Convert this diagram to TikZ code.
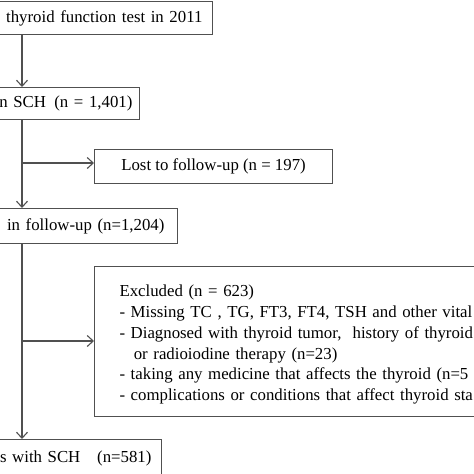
\documentclass[tikz,border=0pt]{standalone}
\usepackage{fontspec}
\setmainfont{Liberation Serif}
\usetikzlibrary{arrows.meta}
\definecolor{edgegray}{HTML}{505050}

\tikzset{
  box/.style = {draw = edgegray, line width = 1.1pt, rectangle, font = \fontsize{16.8}{20.8}\selectfont, inner xsep = 10pt, inner ysep = 0pt},
  flow/.style = {draw = edgegray, line width = 1.1pt, -{Straight Barb[length = 6pt, width = 11pt]}}
}

\begin{document}
\begin{tikzpicture}[x = 1pt, y = -1pt]
\useasboundingbox (0, 0) rectangle (474, 474);
\clip (0, 0) rectangle (474, 474);

\node [box, anchor = north east, text width = 300pt, align = right, minimum height = 33pt] (total) at (213, 1) {thyroid function test in 2011};
\node [box, anchor = north east, text width = 200pt, align = right, minimum height = 32pt, inner xsep = 7pt] (sch) at (140, 87) {n SCH~\,(n = 1,401)};
\node [box, anchor = north west, minimum width = 238pt, minimum height = 34pt] (lost) at (94, 149) {Lost to follow-up (n = 197)};
\node [box, anchor = north east, text width = 200pt, align = right, minimum height = 35pt, inner xsep = 13pt] (follow) at (178, 208) {in follow-up (n=1,204)};
\node [box, anchor = north west, text width = 500pt, align = left, minimum height = 150pt, inner xsep = 25pt] (excl) at (94, 266) {\rule{0pt}{18pt}Excluded (n = 623)\\
- Missing TC , TG, FT3, FT4, TSH and other vital\\
- Diagnosed with thyroid tumor,~ history of thyroid\\
\hspace*{0.85em}or radioiodine therapy (n=23)\\
- taking any medicine that affects the thyroid (n=5\\
- complications or conditions that affect thyroid sta};
\node [box, anchor = north east, text width = 200pt, align = right, minimum height = 38pt] (final) at (162, 439) {s with SCH~~~(n=581)};

% main line and branches
\coordinate (spine) at (22, 0);
\coordinate (split1) at (22, 163);
\coordinate (split2) at (22, 341);

\path [flow] (total.south -| spine) -- (sch.north -| spine);
\path [flow] (sch.south -| spine) -- (follow.north -| spine);
\path [flow] (split1) -- (split1 -| lost.west);
\path [flow] (follow.south -| spine) -- (final.north -| spine);
\path [flow] (split2) -- (split2 -| excl.west);
\end{tikzpicture}
\end{document}
